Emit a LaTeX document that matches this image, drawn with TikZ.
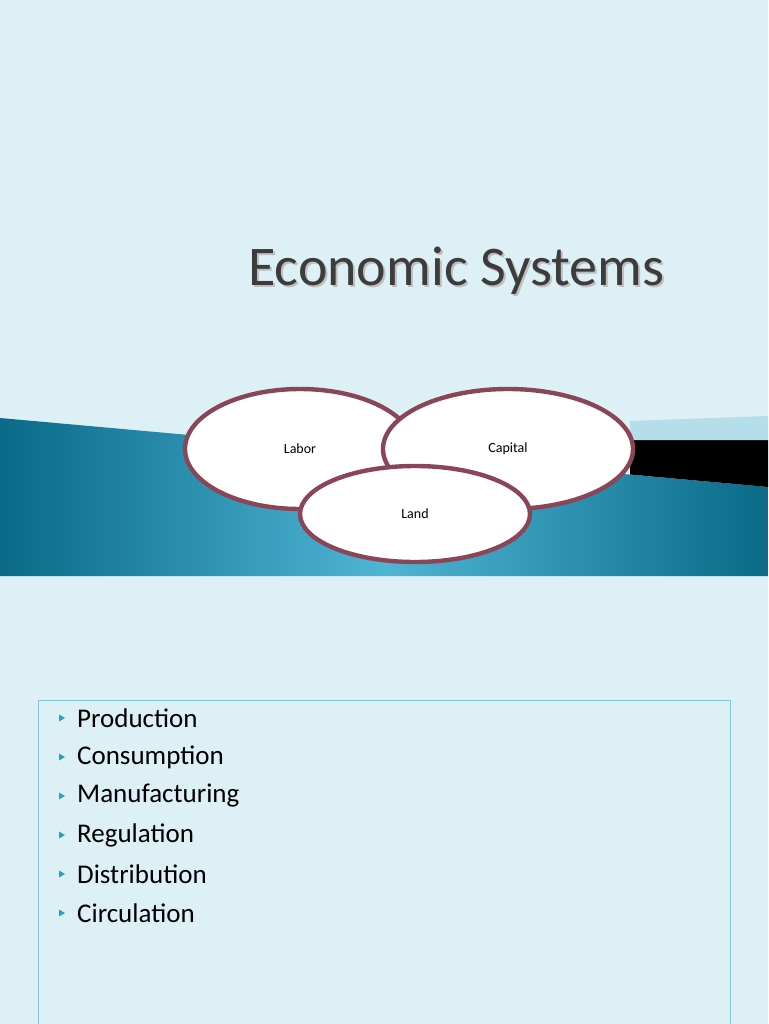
\documentclass[tikz,border=0pt]{standalone}
\usepackage{fontspec}
\setmainfont{Carlito}
\usetikzlibrary{shapes.geometric}
\definecolor{bg}{HTML}{DDF0F6}
\definecolor{tealdark}{HTML}{0A6A88}
\definecolor{teallight}{HTML}{4FB5D5}
\definecolor{maroon}{HTML}{8A4656}
\definecolor{boxline}{HTML}{86C6D6}
\definecolor{bullet}{HTML}{2B9FC2}
\definecolor{titlegray}{HTML}{3C3C3C}
\tikzset{
  oval/.style={ellipse, draw=maroon, line width=2.2pt, fill=white, double=white, double distance=0pt, inner sep=0pt, font=\fontsize{14}{16}\selectfont},
  item/.style={anchor=west, font=\fontsize{27}{30}\selectfont, inner sep=0pt},
  bul/.style={regular polygon, regular polygon sides=3, shape border rotate=-90, fill=bullet, inner sep=0pt, minimum size=8pt}
}
\begin{document}
\begin{tikzpicture}[x=1pt,y=-1pt]
\useasboundingbox (0,0) rectangle (768,1024);
\fill[bg] (0,0) rectangle (768,1024);
% band
\shade[left color=tealdark, right color=tealdark, middle color=teallight] (0,418) -- (768,487) -- (768,576) -- (0,576) -- cycle;
\fill[black] (630,440) -- (768,440) -- (768,487) -- (630,474.5) -- cycle;
\fill[bullet!35!white] (630,421) -- (768,416) -- (768,440) -- (630,440) -- cycle;
% title
\node[anchor=base west, font=\fontsize{56}{60}\selectfont, text=black!25, inner sep=0pt] at (250,287) {Economic Systems};
\node[anchor=base west, font=\fontsize{56}{60}\selectfont, text=titlegray, inner sep=0pt] (title) at (248,285) {Economic Systems};
% ovals
\node[oval, minimum width=230pt, minimum height=120pt] (labor) at (300,449) {Labor};
\node[oval, minimum width=250pt, minimum height=120pt] (capital) at (508,449) {Capital};
\node[oval, minimum width=230pt, minimum height=96pt] (land) at (415,514) {Land};
% box
\draw[boxline, line width=0.8pt] (38,1030) -- (38,700) -- (730,700) -- (730,1030);
\foreach \t [count=\i] in {Production,Consumption,Manufacturing,Regulation,Distribution,Circulation}{
  \node[bul] (b\i) at (61,{718+39*(\i-1)}) {};
  \node[item] (t\i) at (77,{718+39*(\i-1)}) {\t};
}
\end{tikzpicture}
\end{document}
